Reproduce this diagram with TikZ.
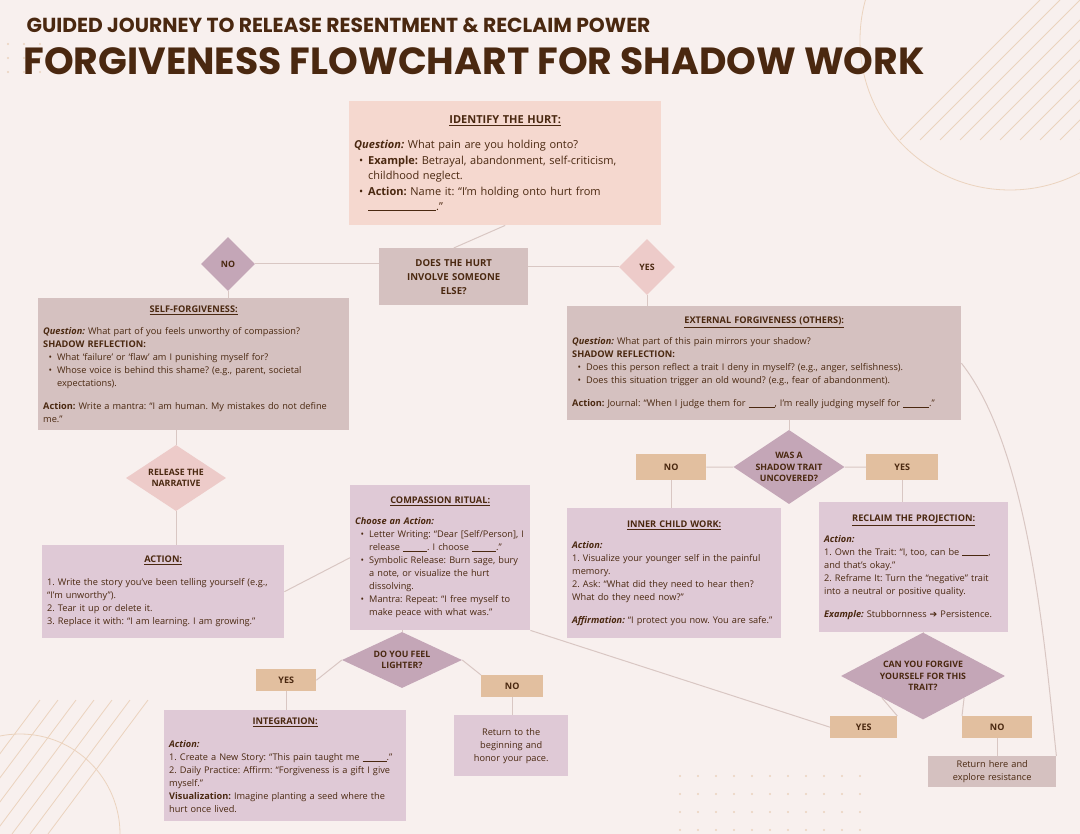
\documentclass[tikz,border=0pt]{standalone}
\usepackage{fontspec}
\setmainfont{Open Sans}
\newfontfamily\titlefont{Poppins}
\newfontfamily\symfont{DejaVu Sans}
\usepackage{enumitem}
\usetikzlibrary{shapes.geometric}
\frenchspacing
\definecolor{bg}{HTML}{F8F0EE}
\definecolor{ink}{HTML}{4A2810}
\definecolor{pinkbox}{HTML}{F5D8CF}
\definecolor{greybox}{HTML}{D5C1C0}
\definecolor{mauvebox}{HTML}{DFC9D6}
\definecolor{mauvedia}{HTML}{C4A6B7}
\definecolor{pinkdia}{HTML}{EDCBC9}
\definecolor{tanbox}{HTML}{E2BF9F}
\definecolor{linec}{HTML}{D9C7C3}
\definecolor{deco}{HTML}{EBD3BE}
\newcommand{\bodyfont}{\frenchspacing\fontsize{9.2}{13}\selectfont}
\newcommand{\hd}[1]{\underline{\textbf{#1}}}
\newcommand{\myjust}{\leftskip0pt\rightskip0pt\parfillskip0pt plus 1fil\relax}
\setlist[itemize]{nosep,leftmargin=14pt,label=\textbullet}
\tikzset{
  box/.style={fill=#1,text=ink,inner xsep=5pt,inner ysep=4pt,anchor=north west,font=\bodyfont,align=left},
  dia/.style={diamond,fill=#1,text=ink,inner sep=0pt,font=\bfseries\fontsize{8.8}{11.5}\selectfont,align=center,aspect=1.5},
  tan/.style={fill=tanbox,text=ink,font=\bfseries\fontsize{9}{10}\selectfont,anchor=north west,inner sep=0pt},
  conn/.style={draw=linec,line width=1pt},
}
\begin{document}
\begin{tikzpicture}[x=1pt,y=-1pt]
\useasboundingbox (0,0) rectangle (1080,834);
\fill[bg] (0,0) rectangle (1080,834);
% decorations
\begin{scope}
\clip (0,0) rectangle (1080,834);
\draw[deco,line width=0.8pt] (1010,40) circle (150);
\foreach \i in {0,...,9} \draw[deco,line width=0.8pt] (900+\i*20,140) -- (1040+\i*20,0);
\draw[deco,line width=0.8pt] (20,834) circle (100);
\foreach \i in {0,...,6} \draw[deco,line width=0.8pt] (-60+\i*18,834) -- (40+\i*18,700);
\foreach \i in {0,...,10} \foreach \j in {0,...,3} \fill[deco] (680+\i*18,776+\j*18) circle (1.2);
\foreach \i in {0,...,2} \foreach \j in {0,...,2} \fill[deco] (8+\i*16,44+\j*14) circle (1.2);
\end{scope}
% titles
\node[anchor=west,text=ink,font=\titlefont\bfseries\fontsize{20.3}{22}\selectfont] (sub) at (23,25) {GUIDED JOURNEY TO RELEASE RESENTMENT \& RECLAIM POWER};
\node[anchor=west,text=ink,font=\titlefont\bfseries\fontsize{37.8}{40}\selectfont] (title) at (20,61) {FORGIVENESS FLOWCHART FOR SHADOW WORK};
% nodes
\node[box=pinkbox,minimum width=312pt,minimum height=124pt,text width=302pt,font=\frenchspacing\fontsize{11}{15.5}\selectfont] (id) at (349,101) {%
\centering\hd{IDENTIFY THE HURT:}\par\vspace{10pt}\raggedright
\textbf{\textit{Question:}} What pain are you holding onto?
\begin{itemize}
\item \textbf{Example:} Betrayal, abandonment, self-criticism, childhood neglect.
\item \textbf{Action:} Name it: “I’m holding onto hurt from \rule{68pt}{0.4pt}.”
\end{itemize}};
\node[fill=greybox,text=ink,minimum width=149pt,minimum height=57pt,text width=140pt,align=center,font=\bfseries\fontsize{9.6}{14}\selectfont,anchor=north west,inner sep=0pt] (q) at (379,248) {DOES THE HURT\\INVOLVE SOMEONE\\ELSE?};
\node[dia=mauvedia,minimum width=54pt,minimum height=54pt,aspect=1] (no1) at (228,264) {NO};
\node[dia=pinkdia,minimum width=56pt,minimum height=56pt,aspect=1] (yes1) at (647,267) {YES};
\node[box=greybox,minimum width=311pt,minimum height=132pt,text width=301pt] (sf) at (38,298) {%
\centering\hd{SELF-FORGIVENESS:}\par\vspace{9pt}\myjust
\textbf{\textit{Question:}} What part of you feels unworthy of compassion?\\
\textbf{SHADOW REFLECTION:}
\begin{itemize}
\item What ‘failure’ or ‘flaw’ am I punishing myself for?
\item Whose voice is behind this shame? (e.g., parent, societal expectations).
\end{itemize}
\vspace{10pt}
\textbf{Action:} Write a mantra: “I am human. My mistakes do not define me.”};
\node[box=greybox,minimum width=394pt,minimum height=114pt,text width=384pt] (ext) at (567,306) {%
\centering\hd{EXTERNAL FORGIVENESS (OTHERS):}\par\vspace{8pt}\raggedright
\textbf{\textit{Question:}} What part of this pain mirrors your shadow?\\
\textbf{SHADOW REFLECTION:}
\begin{itemize}
\item Does this person reflect a trait I deny in myself? (e.g., anger, selfishness).
\item Does this situation trigger an old wound? (e.g., fear of abandonment).
\end{itemize}
\vspace{10pt}
\textbf{Action:} Journal: “When I judge them for \rule{26pt}{0.4pt}, I’m really judging myself for \rule{26pt}{0.4pt}.”};
\node[dia=pinkdia,minimum width=100pt,minimum height=66pt] (rel) at (176,478) {RELEASE THE\\NARRATIVE};
\node[box=mauvebox,minimum width=242pt,minimum height=93pt,text width=232pt] (act) at (42,545) {%
\centering\hd{ACTION:}\par\vspace{10pt}\raggedright
1. Write the story you’ve been telling yourself (e.g., “I’m unworthy”).\\
2. Tear it up or delete it.\\
3. Replace it with: “I am learning. I am growing.”};
\node[box=mauvebox,minimum width=180pt,minimum height=145pt,text width=170pt] (comp) at (350,485) {%
\centering\hd{COMPASSION RITUAL:}\par\vspace{8pt}\raggedright
\textbf{\textit{Choose an Action:}}
\begin{itemize}
\item Letter Writing: “Dear [Self/Person], I release \rule{24pt}{0.4pt}. I choose \rule{24pt}{0.4pt}.”
\item Symbolic Release: Burn sage, bury a note, or visualize the hurt dissolving.
\item Mantra: Repeat: “I free myself to make peace with what was.”
\end{itemize}};
\node[dia=mauvedia,minimum width=110pt,minimum height=66pt] (was) at (789,467) {WAS A\\SHADOW TRAIT\\UNCOVERED?};
\node[tan,minimum width=70pt,minimum height=26pt] (no2) at (636,454) {NO};
\node[tan,minimum width=72pt,minimum height=26pt] (yes2) at (866,454) {YES};
\node[box=mauvebox,minimum width=214pt,minimum height=130pt,text width=204pt] (inner) at (567,508) {%
\centering\hd{INNER CHILD WORK:}\par\vspace{8pt}\raggedright
\textbf{\textit{Action:}}\\
1. Visualize your younger self in the painful memory.\\
2. Ask: “What did they need to hear then? What do they need now?”\par\vspace{10pt}
\textbf{\textit{Affirmation:}} “I protect you now. You are safe.”};
\node[box=mauvebox,minimum width=189pt,minimum height=130pt,text width=179pt] (recl) at (819,502) {%
\centering\hd{RECLAIM THE PROJECTION:}\par\vspace{8pt}\raggedright
\textbf{\textit{Action:}}\\
1. Own the Trait: “I, too, can be \rule{26pt}{0.4pt}, and that’s okay.”\\
2. Reframe It: Turn the “negative” trait into a neutral or positive quality.\par\vspace{10pt}
\textbf{\textit{Example:}} Stubbornness {\symfont ➔} Persistence.};
\node[dia=mauvedia,minimum width=164pt,minimum height=70pt] (can) at (923,676) {CAN YOU FORGIVE\\YOURSELF FOR THIS\\TRAIT?};
\node[tan,minimum width=67pt,minimum height=22pt] (yes3) at (830,716) {YES};
\node[tan,minimum width=70pt,minimum height=22pt] (no3) at (962,716) {NO};
\node[fill=greybox,text=ink,minimum width=128pt,minimum height=31pt,text width=124pt,align=center,font=\bodyfont,anchor=north west,inner sep=0pt] (ret2) at (928,756) {Return here and explore resistance};
\node[dia=mauvedia,minimum width=120pt,minimum height=56pt] (light) at (402,660) {DO YOU FEEL\\LIGHTER?};
\node[tan,minimum width=60pt,minimum height=22pt] (yes4) at (256,669) {YES};
\node[tan,minimum width=62pt,minimum height=22pt] (no4) at (481,675) {NO};
\node[box=mauvebox,minimum width=242pt,minimum height=111pt,text width=232pt] (integ) at (164,710) {%
\centering\hd{INTEGRATION:}\par\vspace{10pt}\raggedright
\textbf{\textit{Action:}}\\
1. Create a New Story: “This pain taught me \rule{24pt}{0.4pt}.”\\
2. Daily Practice: Affirm: “Forgiveness is a gift I give myself.”\\
\textbf{Visualization:} Imagine planting a seed where the hurt once lived.};
\node[fill=mauvebox,text=ink,minimum width=114pt,minimum height=61pt,text width=100pt,align=center,font=\bodyfont,anchor=north west,inner sep=0pt] (ret1) at (454,715) {Return to the beginning and honor your pace.};
% connectors
\draw[conn] (id.south) -- (q.north);
\draw[conn] (no1.east) -- (q.west |- no1.east);
\draw[conn] (q.east |- yes1.west) -- (yes1.west);
\draw[conn] (no1.south) -- (sf.north -| no1.south);
\draw[conn] (yes1.south) -- (ext.north -| yes1.south);
\draw[conn] (sf.south -| rel.north) -- (rel.north);
\draw[conn] (rel.south) -- (rel.south |- act.north);
\draw[conn] (act.east) -- (comp.west);
\draw[conn] (ext.south -| was.north) -- (was.north);
\draw[conn] (was.west) -- (no2.east);
\draw[conn] (was.east) -- (yes2.west);
\draw[conn] (no2.south) -- (no2.south |- inner.north);
\draw[conn] (yes2.south) -- (recl.north -| yes2.south);
\draw[conn] (recl.south -| can.north) -- (can.north);
\draw[conn] (can.south west) -- (yes3.north east);
\draw[conn] (can.south east) -- (no3.north west);
\draw[conn] (no3.south) -- (ret2.north -| no3.south);
\draw[conn] (comp.south east) -- (yes3.west);
\draw[conn] (ext.east) .. controls (1030,450) and (1045,650) .. (ret2.north east);
\draw[conn] (comp.south -| light.north) -- (light.north);
\draw[conn] (light.west) -- (yes4.east);
\draw[conn] (light.east) -- (no4.north west);
\draw[conn] (yes4.south) -- (yes4.south |- integ.north);
\draw[conn] (no4.south) -- (no4.south |- ret1.north);
\end{tikzpicture}
\end{document}
